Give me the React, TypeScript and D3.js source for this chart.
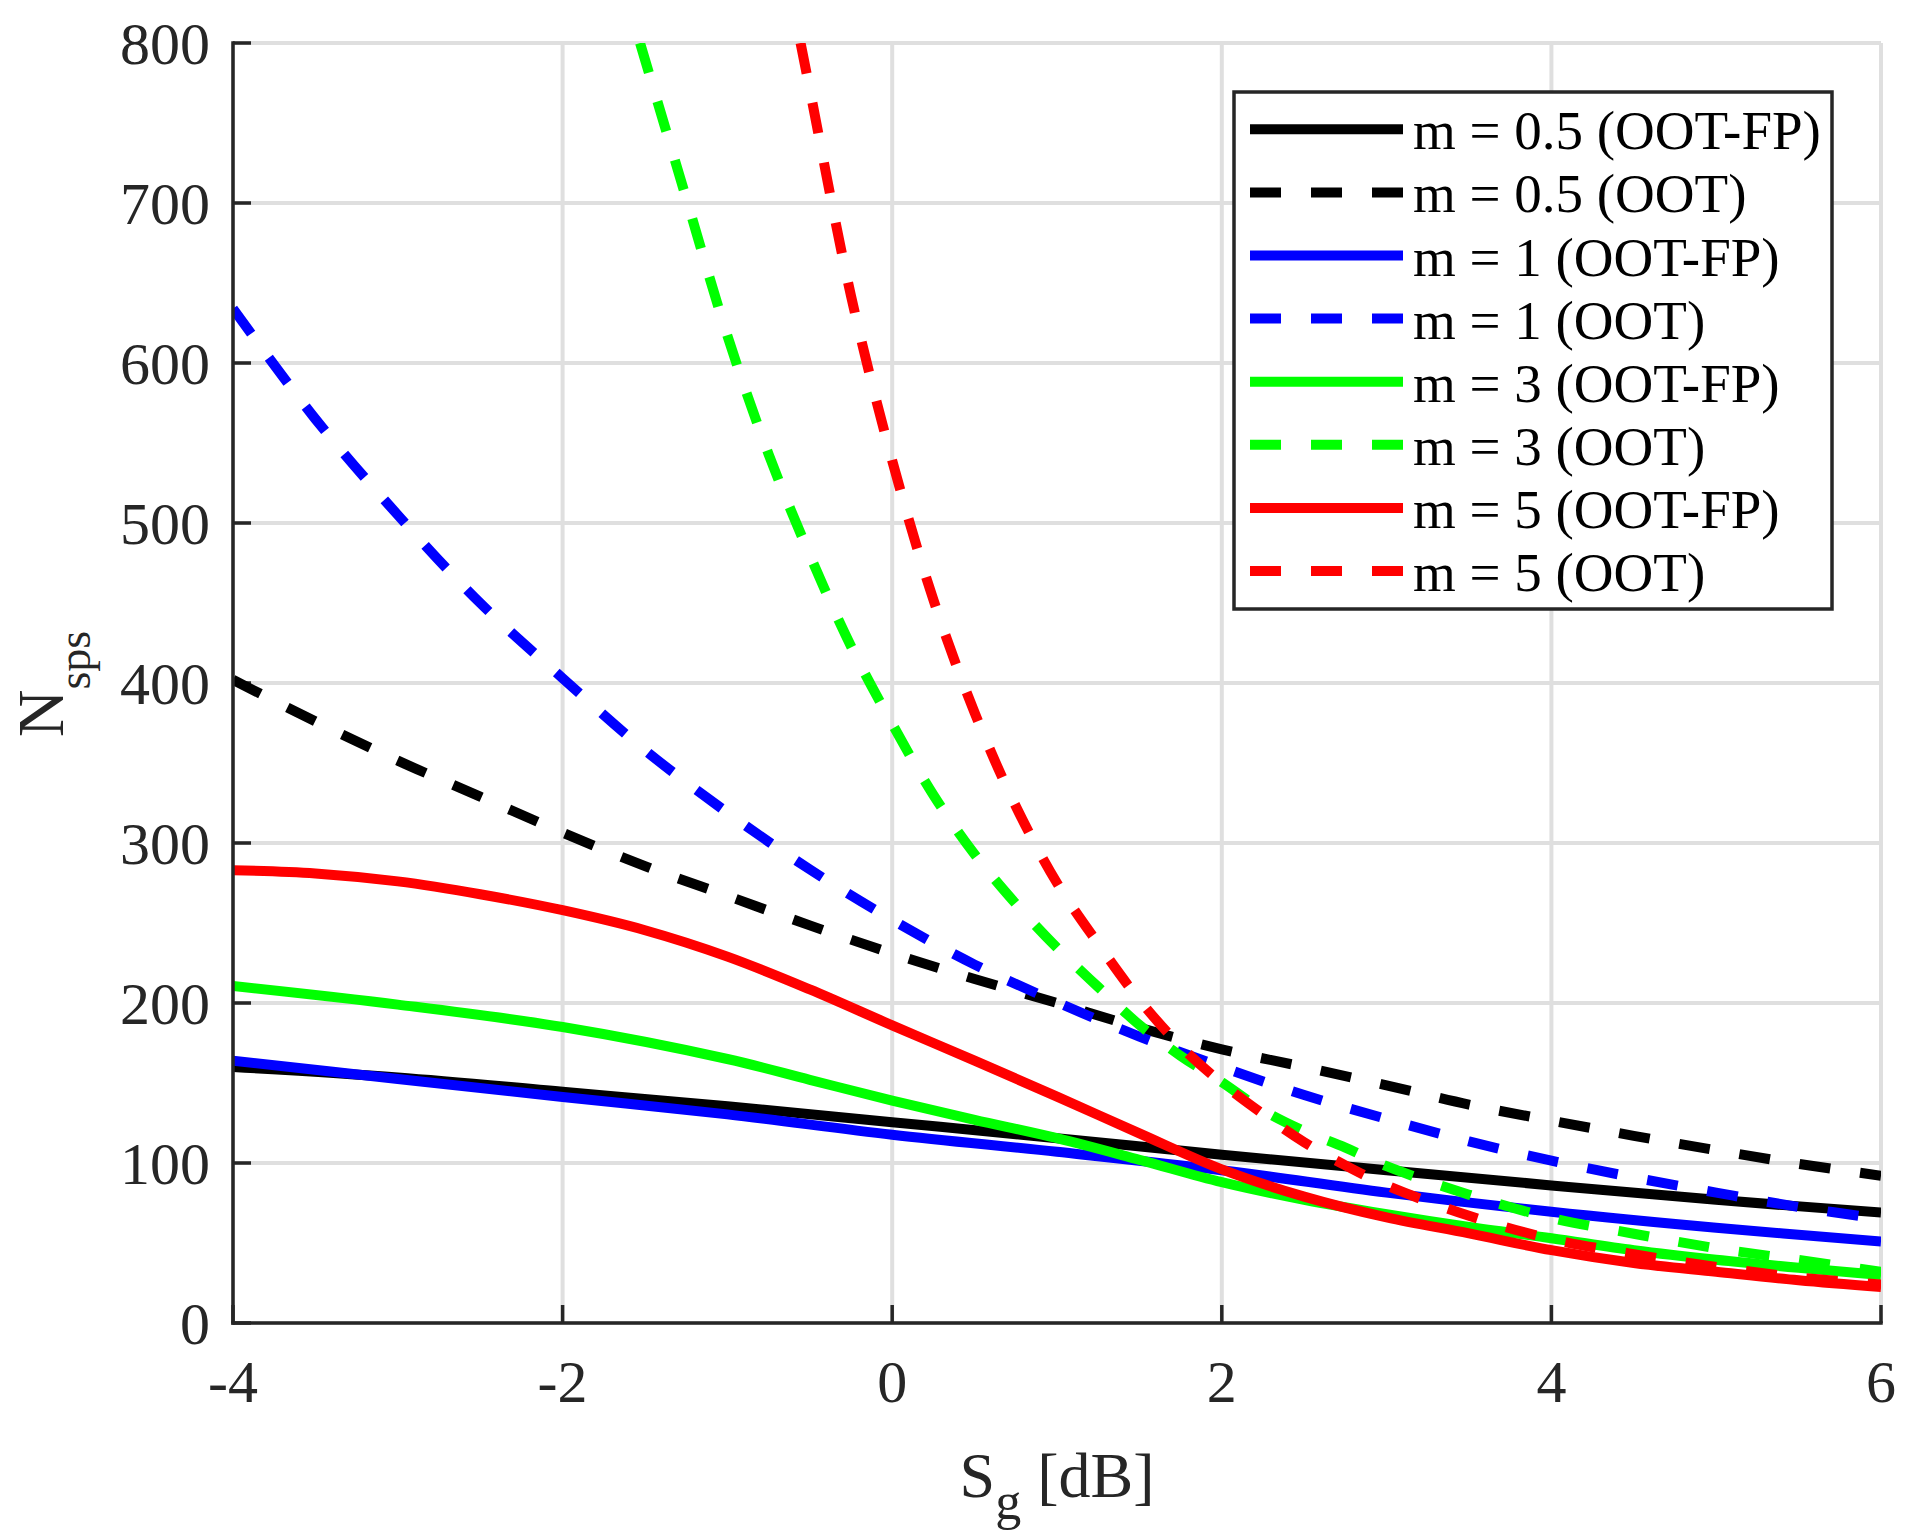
import React from "react";
import * as d3 from "d3";

// ---- data ----
const xTicks = [-4, -2, 0, 2, 4, 6];
const yTicks = [0, 100, 200, 300, 400, 500, 600, 700, 800];

const blackFPx = [-4, -3, -2, -1, 0, 1, 2, 3, 4, 5, 6];
const blackFPy = [160, 153.5, 144.5, 135.5, 125.5, 115.5, 105.2, 95.5, 86, 77, 69];

const blackOOTx = [-4, -3.5, -3, -2.5, -2, -1.5, -1, -0.5, 0, 0.5, 1, 1.5, 2, 2.5, 3, 3.5, 4, 4.5, 5, 5.5, 6];
const blackOOTy = [402, 376, 351.5, 329, 306.5, 285.5, 267, 248.5, 231, 215, 200, 184.5, 171, 160, 148.5, 136.5, 126.5, 117, 108, 99.5, 92];

const blueFPx = [-4, -3, -2, -1, 0, 1, 2, 3, 4, 5, 6];
const blueFPy = [164, 152.5, 141.3, 130.4, 117.7, 107, 95.5, 81.5, 69.5, 59.5, 51];

const blueOOTx = [-4, -3.5, -3, -2.5, -2, -1.5, -1, -0.5, 0, 0.5, 1, 1.5, 2, 2.5, 3, 3.5, 4, 4.5, 5, 5.5, 6];
const blueOOTy = [634, 565, 505, 450, 403, 358, 319, 283.5, 252, 224, 200.5, 179, 160, 142.5, 127.5, 113.5, 101.5, 91, 81.5, 72.5, 65];

const greenFPx = [-4, -3, -2, -1, -0.5, 0, 0.5, 1, 1.5, 2, 2.5, 3, 3.5, 4, 4.5, 5, 5.5, 6];
const greenFPy = [210.6, 199, 185, 165, 152, 139, 127, 115.5, 102, 88, 77, 68, 60, 53, 45.5, 39.5, 34.5, 30];

const greenOOTx = [-1.53, -1.25, -1, -0.75, -0.5, -0.25, 0, 0.25, 0.5, 0.75, 1, 1.25, 1.5, 1.75, 2, 2.25, 2.5, 2.75, 3, 3.5, 4, 4.5, 5, 5.5, 6];
const greenOOTy = [800, 703, 617, 543, 480, 423, 374.5, 330, 293, 262, 234.5, 210, 186.3, 167, 150.5, 133, 120, 109.6, 98, 80.2, 65.7, 55.8, 46.7, 39.4, 32];

const redFPx = [-4, -3.5, -3, -2.5, -2, -1.5, -1, -0.5, 0, 0.5, 1, 1.5, 2, 2.5, 3, 3.5, 4, 4.5, 5, 5.5, 6];
const redFPy = [283, 281, 276, 268, 258, 245.5, 229, 208.5, 186, 164, 141.5, 118.5, 96, 79, 66, 56, 45.5, 37.5, 32, 26.7, 22.5];

const redOOTx = [-0.556, -0.5, -0.25, 0, 0.25, 0.5, 0.75, 1, 1.25, 1.5, 1.75, 2, 2.25, 2.5, 2.75, 3, 3.5, 4, 4.5, 5, 5.5, 6];
const redOOTy = [800, 771, 642, 539, 452, 381.5, 323, 275, 237, 202, 173, 150, 130.6, 113, 98.5, 86, 67, 52.5, 43, 35, 28.5, 24];

const seriesNames = [
  "m = 0.5 (OOT-FP)",
  "m = 0.5 (OOT)",
  "m = 1 (OOT-FP)",
  "m = 1 (OOT)",
  "m = 3 (OOT-FP)",
  "m = 3 (OOT)",
  "m = 5 (OOT-FP)",
  "m = 5 (OOT)",
];
const seriesColors = ["#000000", "#000000", "#0000ff", "#0000ff", "#00ff00", "#00ff00", "#ff0000", "#ff0000"];
const seriesDashed = [false, true, false, true, false, true, false, true];
const seriesX = [blackFPx, blackOOTx, blueFPx, blueOOTx, greenFPx, greenOOTx, redFPx, redOOTx];
const seriesY = [blackFPy, blackOOTy, blueFPy, blueOOTy, greenFPy, greenOOTy, redFPy, redOOTy];

// ---- layout ----
const W = 1915;
const H = 1539;
const L = 233;
const R = 1881;
const T = 43;
const B = 1323;
const AX = "#262626";
const FONT = "'Liberation Serif', 'Times New Roman', serif";
const DASH = "31,30";

export default function App() {
  const x = d3.scaleLinear().domain([-4, 6]).range([L, R]);
  const y = d3.scaleLinear().domain([0, 800]).range([B, T]);
  const line = d3
    .line<[number, number]>()
    .x((d) => x(d[0]))
    .y((d) => y(d[1]))
    .curve(d3.curveCatmullRom.alpha(0.5));

  const legX0 = 1234;
  const legY0 = 92;
  const legX1 = 1832;
  const legY1 = 609;
  const rowY = (i: number) => 129.3 + i * 63.1;

  return (
    <svg
      width={W}
      height={H}
      style={{ position: "absolute", left: 0, top: 0, display: "block", background: "#fff" }}
      fontFamily={FONT}
    >
      <defs>
        <clipPath id="plotClip">
          <rect x={L} y={T} width={R - L} height={B - T} />
        </clipPath>
      </defs>
      <rect x={0} y={0} width={W} height={H} fill="#fff" />
      {/* grid */}
      {xTicks.map((t) => (
        <line key={"gx" + t} x1={x(t)} x2={x(t)} y1={T} y2={B} stroke="#dfdfdf" strokeWidth={4} />
      ))}
      {yTicks.map((t) => (
        <line key={"gy" + t} x1={L} x2={R} y1={y(t)} y2={y(t)} stroke="#dfdfdf" strokeWidth={4} />
      ))}
      {/* ticks */}
      {xTicks.map((t) => (
        <line key={"tx" + t} x1={x(t)} x2={x(t)} y1={B} y2={B - 18} stroke={AX} strokeWidth={3.5} />
      ))}
      {yTicks.map((t) => (
        <line key={"ty" + t} x1={L} x2={L + 18} y1={y(t)} y2={y(t)} stroke={AX} strokeWidth={3.5} />
      ))}
      {/* data */}
      <g clipPath="url(#plotClip)">
        {seriesX.map((xs, i) => {
          const pts: [number, number][] = xs.map((xv, j) => [xv, seriesY[i][j]]);
          return (
            <path
              key={"s" + i}
              d={line(pts) || ""}
              fill="none"
              stroke={seriesColors[i]}
              strokeWidth={10}
              strokeDasharray={seriesDashed[i] ? DASH : undefined}
              strokeLinejoin="round"
            />
          );
        })}
      </g>
      {/* axes */}
      <line x1={L} x2={L} y1={T - 1.75} y2={B + 1.75} stroke={AX} strokeWidth={3.5} />
      <line x1={L - 1.75} x2={R + 1.75} y1={B} y2={B} stroke={AX} strokeWidth={3.5} />
      {/* tick labels */}
      {xTicks.map((t) => (
        <text key={"lx" + t} x={x(t)} y={1402} fontSize={60} textAnchor="middle" fill={AX}>
          {t < 0 ? "-" + Math.abs(t) : String(t)}
        </text>
      ))}
      {yTicks.map((t) => (
        <text key={"ly" + t} x={210} y={y(t) + 21} fontSize={60} textAnchor="end" fill={AX}>
          {String(t)}
        </text>
      ))}
      {/* axis labels */}
      <text x={1057} y={1497} textAnchor="middle" fill={AX} fontSize={64}>
        <tspan>S</tspan>
        <tspan fontSize={52} dy={22}>g</tspan>
        <tspan dy={-22}> [dB]</tspan>
      </text>
      <text transform="translate(63,684) rotate(-90)" textAnchor="middle" fill={AX}>
        <tspan fontSize={66}>N</tspan>
        <tspan fontSize={46} dy={27}>sps</tspan>
      </text>
      {/* legend */}
      <rect x={legX0} y={legY0} width={legX1 - legX0} height={legY1 - legY0} fill="#fff" stroke={AX} strokeWidth={3.5} />
      {seriesNames.map((name, i) => (
        <g key={"lg" + i}>
          <line
            x1={1250}
            x2={1403}
            y1={rowY(i)}
            y2={rowY(i)}
            stroke={seriesColors[i]}
            strokeWidth={10}
            strokeDasharray={seriesDashed[i] ? DASH : undefined}
          />
          <text x={1413} y={rowY(i) + 20} fontSize={55} fill="#000">
            {name}
          </text>
        </g>
      ))}
    </svg>
  );
}
